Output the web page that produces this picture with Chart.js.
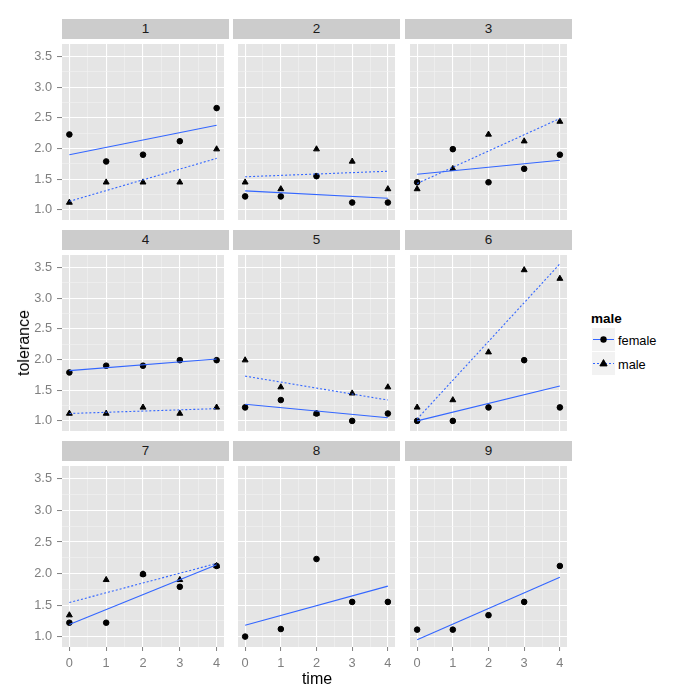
<!DOCTYPE html>
<html><head><meta charset="utf-8">
<script src="https://cdn.jsdelivr.net/npm/chart.js@4.4.1/dist/chart.umd.min.js"></script>
<style>
body{margin:0;background:#fff;width:700px;height:700px;position:relative;overflow:hidden;font-family:"Liberation Sans",Arial,sans-serif;}
.strip{position:absolute;background:#CCCCCC;color:#1A1A1A;font-size:13.5px;text-align:center;line-height:20px;height:20px;}
.wrap{position:absolute;}
.title{position:absolute;color:#000;font-size:16px;white-space:nowrap;}
.lg{position:absolute;white-space:nowrap;}
</style></head><body>
<script>
const panelLabels = ['1','2','3','4','5','6','7','8','9'];
const times = [0, 1, 2, 3, 4];
const femaleTolerance = [
  [2.23, 1.79, 1.90, 2.12, 2.66],
  [1.22, 1.22, 1.55, 1.12, 1.12],
  [1.45, 1.99, 1.45, 1.67, 1.90],
  [1.79, 1.90, 1.90, 1.99, 1.99],
  [1.22, 1.34, 1.12, 1.00, 1.12],
  [1.00, 1.00, 1.22, 1.99, 1.22],
  [1.22, 1.22, 1.99, 1.79, 2.12],
  [1.00, 1.12, 2.23, 1.55, 1.55],
  [1.11, 1.11, 1.34, 1.55, 2.12]
];
const maleTolerance = [
  [1.12, 1.45, 1.45, 1.45, 1.99],
  [1.45, 1.34, 1.99, 1.79, 1.34],
  [1.34, 1.67, 2.23, 2.12, 2.44],
  [1.12, 1.12, 1.22, 1.12, 1.22],
  [1.99, 1.55, 1.12, 1.45, 1.55],
  [1.22, 1.34, 2.12, 3.46, 3.32],
  [1.34, 1.90, 1.99, 1.90, 2.12],
  null,
  null
];
const femaleFitStart = [1.90, 1.31, 1.58, 1.82, 1.27, 1.00, 1.19, 1.18, 0.95];
const femaleFitEnd   = [2.38, 1.19, 1.81, 2.01, 1.05, 1.57, 2.14, 1.80, 1.94];
const maleFitStart   = [1.14, 1.54, 1.43, 1.12, 1.73, 1.03, 1.54, null, null];
const maleFitEnd     = [1.84, 1.63, 2.49, 1.20, 1.34, 3.56, 2.16, null, null];
const yMajorTicks = [1.0, 1.5, 2.0, 2.5, 3.0, 3.5];
const yMinorTicks = [1.25, 1.75, 2.25, 2.75, 3.25];
const xMajorTicks = [0, 1, 2, 3, 4];
const xMinorTicks = [0.5, 1.5, 2.5, 3.5];

const colLeft = [62, 233, 405];
const rowTop = [39, 250, 461];
const PW = 167, PH = 186;
const fitColor = '#3366FF';
const tickFont = {family: '"Liberation Sans", Arial, sans-serif', size: 12.8};

const bgPlugin = {
  id: 'panelBg',
  beforeDraw(chart) {
    const a = chart.chartArea, ctx = chart.ctx;
    ctx.save(); ctx.fillStyle = '#E5E5E5';
    ctx.fillRect(a.left, a.top, a.right - a.left, a.bottom - a.top);
    ctx.restore();
  }
};

function isIn(arr, v) { return arr.some(a => Math.abs(a - v) < 1e-9); }

function makePanel(i) {
  const r = Math.floor(i / 3), c = i % 3;
  const px = colLeft[c], py = rowTop[r];
  const leftExtra = c === 0 ? 62 : 0;
  const bottomExtra = r === 2 ? 40 : 0;

  const strip = document.createElement('div');
  strip.className = 'strip';
  strip.style.cssText = `left:${px}px;top:${py - 20}px;width:${PW}px;`;
  strip.textContent = panelLabels[i];
  document.body.appendChild(strip);

  const wrap = document.createElement('div');
  wrap.className = 'wrap';
  wrap.style.cssText = `left:${px - leftExtra}px;top:${py}px;width:${PW + leftExtra}px;height:${PH + bottomExtra}px;`;
  const cv = document.createElement('canvas');
  wrap.appendChild(cv);
  document.body.appendChild(wrap);

  const datasets = [];
  datasets.push({
    label: 'female fit', showLine: true, borderColor: fitColor, borderWidth: 1.1, pointRadius: 0,
    data: [{x: times[0], y: femaleFitStart[i]}, {x: times[4], y: femaleFitEnd[i]}]
  });
  if (maleTolerance[i]) {
    datasets.push({
      label: 'male fit', showLine: true, borderColor: fitColor, borderWidth: 1.1, borderDash: [2, 2], pointRadius: 0,
      data: [{x: times[0], y: maleFitStart[i]}, {x: times[4], y: maleFitEnd[i]}]
    });
  }
  datasets.push({
    label: 'female', pointStyle: 'circle', pointRadius: 2.8, backgroundColor: '#000', borderColor: '#000', borderWidth: 1,
    data: times.map((t, k) => ({x: t, y: femaleTolerance[i][k]}))
  });
  if (maleTolerance[i]) {
    datasets.push({
      label: 'male', pointStyle: 'triangle', pointRadius: 3.4, backgroundColor: '#000', borderColor: '#000', borderWidth: 1,
      data: times.map((t, k) => ({x: t, y: maleTolerance[i][k]}))
    });
  }

  new Chart(cv, {
    type: 'scatter',
    data: {datasets},
    plugins: [bgPlugin],
    options: {
      responsive: true, maintainAspectRatio: false, animation: false, events: [],
      layout: {padding: 0},
      plugins: {legend: {display: false}, tooltip: {enabled: false}},
      scales: {
        x: {
          type: 'linear', min: -0.2, max: 4.2,
          afterBuildTicks: s => { s.ticks = xMinorTicks.map(v => ({value: v})).concat(xMajorTicks.map(v => ({value: v}))); },
          afterFit: s => { s.height = bottomExtra; s.paddingLeft = 0; s.paddingRight = 0; s.paddingTop = 0; s.paddingBottom = 0; },
          border: {display: false},
          grid: {
            color: ctx => isIn(xMinorTicks, ctx.tick.value) ? '#F2F2F2' : '#FFFFFF',
            lineWidth: ctx => isIn(xMinorTicks, ctx.tick.value) ? 0.6 : 1.1,
            drawTicks: r === 2, tickLength: 4, tickWidth: 1,
            tickColor: ctx => isIn(xMinorTicks, ctx.tick.value) ? 'rgba(0,0,0,0)' : '#7F7F7F'
          },
          ticks: {
            display: r === 2, autoSkip: false, maxRotation: 0, padding: 5, color: '#7F7F7F', font: tickFont,
            callback: v => isIn(xMajorTicks, v) ? String(v) : ''
          }
        },
        y: {
          type: 'linear', min: 0.835, max: 3.705,
          afterBuildTicks: s => { s.ticks = yMinorTicks.map(v => ({value: v})).concat(yMajorTicks.map(v => ({value: v}))); },
          afterFit: s => { s.width = leftExtra; s.paddingLeft = 0; s.paddingRight = 0; s.paddingTop = 0; s.paddingBottom = 0; },
          border: {display: false},
          grid: {
            color: ctx => isIn(yMinorTicks, ctx.tick.value) ? '#F2F2F2' : '#FFFFFF',
            lineWidth: ctx => isIn(yMinorTicks, ctx.tick.value) ? 0.6 : 1.1,
            drawTicks: c === 0, tickLength: 5, tickWidth: 1,
            tickColor: ctx => isIn(yMinorTicks, ctx.tick.value) ? 'rgba(0,0,0,0)' : '#7F7F7F'
          },
          ticks: {
            display: c === 0, autoSkip: false, padding: 5, color: '#7F7F7F', font: tickFont,
            callback: v => isIn(yMajorTicks, v) ? Number(v).toFixed(1) : ''
          }
        }
      }
    }
  });
}

for (let i = 0; i < 9; i++) makePanel(i);

// axis titles
const xt = document.createElement('div');
xt.className = 'title'; xt.textContent = 'time';
xt.style.cssText = 'left:317px;top:679px;transform:translate(-50%,-50%);';
document.body.appendChild(xt);
const yt = document.createElement('div');
yt.className = 'title'; yt.textContent = 'tolerance';
yt.style.cssText = 'left:24px;top:343px;transform:translate(-50%,-50%) rotate(-90deg);';
document.body.appendChild(yt);

// legend
const legendTitle = 'male';
const legendLabels = ['female', 'male'];
const lt = document.createElement('div');
lt.className = 'lg'; lt.textContent = legendTitle;
lt.style.cssText = 'left:591px;top:318px;transform:translateY(-50%);font-weight:bold;font-size:13.5px;color:#000;';
document.body.appendChild(lt);
legendLabels.forEach((lab, k) => {
  const top = 328 + k * 24;
  const key = document.createElement('div');
  key.className = 'lg';
  key.style.cssText = `left:592px;top:${top}px;width:23px;height:23px;background:#F2F2F2;`;
  const dash = k === 1 ? 'stroke-dasharray="2,2"' : '';
  const mark = k === 0
    ? '<circle cx="11.5" cy="11.5" r="3.2" fill="#000"/>'
    : '<polygon points="11.5,7.6 15.1,13.9 7.9,13.9" fill="#000" stroke="#000" stroke-width="1"/>';
  key.innerHTML = `<svg width="23" height="23"><line x1="1" y1="11.5" x2="22" y2="11.5" stroke="${fitColor}" stroke-width="1" ${dash}/>${mark}</svg>`;
  document.body.appendChild(key);
  const tx = document.createElement('div');
  tx.className = 'lg'; tx.textContent = lab;
  tx.style.cssText = `left:618px;top:${top + 12}px;transform:translateY(-50%);font-size:12.8px;color:#000;`;
  document.body.appendChild(tx);
});
</script>
</body></html>
